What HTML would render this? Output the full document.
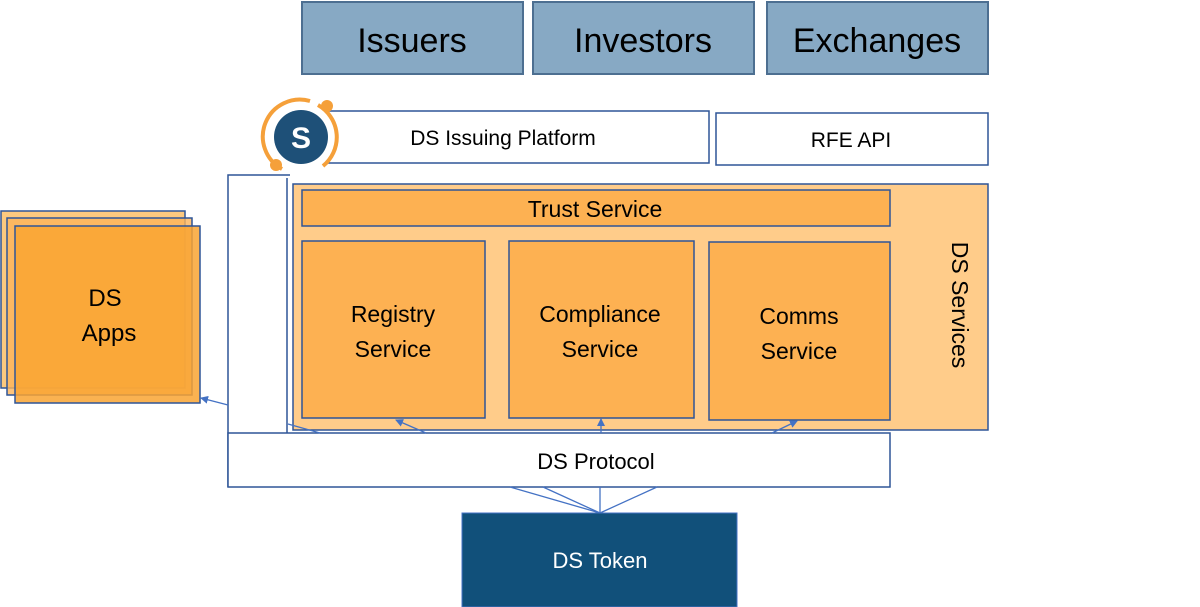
<!DOCTYPE html>
<html><head><meta charset="utf-8"><style>
html,body{margin:0;padding:0;background:#fff;width:1200px;height:607px;overflow:hidden}
svg{display:block}
text{font-family:"Liberation Sans",sans-serif;fill:#000}
</style></head><body>
<svg width="1200" height="607" viewBox="0 0 1200 607" xmlns="http://www.w3.org/2000/svg">
<defs>
<marker id="ar" markerWidth="8" markerHeight="8" refX="7" refY="4" orient="auto" markerUnits="userSpaceOnUse">
<path d="M0,0 L8,4 L0,8 z" fill="#4472c4"/></marker>
</defs>
<g stroke="#4d6f91" stroke-width="2" fill="#87a9c4">
<rect x="302" y="2" width="221" height="72"/>
<rect x="533" y="2" width="221" height="72"/>
<rect x="767" y="2" width="221" height="72"/>
</g>
<g font-size="34" text-anchor="middle">
<text x="412" y="52">Issuers</text>
<text x="643" y="52">Investors</text>
<text x="877" y="52">Exchanges</text>
</g>
<g stroke="#2f5597" stroke-width="1.5" fill="#fff">
<rect x="287" y="111" width="422" height="52"/>
<rect x="716" y="113" width="272" height="52"/>
</g>
<g font-size="21" text-anchor="middle">
<text x="503" y="145">DS Issuing Platform</text>
<text x="851" y="147">RFE API</text>
</g>
<path d="M290,175 L228,175 L228,487" fill="none" stroke="#2f5597" stroke-width="1.5"/>
<path d="M287,178 L287,433" fill="none" stroke="#2f5597" stroke-width="1.5"/>
<rect x="293" y="184" width="695" height="246" fill="#ffcc8a" stroke="#2f5597" stroke-width="1.5"/>
<g fill="#fdb152" stroke="#2f5597" stroke-width="1.5">
<rect x="302" y="190" width="588" height="36"/>
<rect x="302" y="241" width="183" height="177"/>
<rect x="509" y="241" width="185" height="177"/>
<rect x="709" y="242" width="181" height="178"/>
</g>
<g font-size="23" text-anchor="middle">
<text x="595" y="217">Trust Service</text>
<text x="393" y="322">Registry</text><text x="393" y="357">Service</text>
<text x="600" y="322">Compliance</text><text x="600" y="357">Service</text>
<text x="799" y="324">Comms</text><text x="799" y="359">Service</text>
<text transform="translate(952,305) rotate(90)" text-anchor="middle" font-size="23">DS Services</text>
</g>
<rect x="228" y="433" width="662" height="54" fill="#fff" stroke="#2f5597" stroke-width="1.5"/>
<text x="596" y="469" font-size="22" text-anchor="middle">DS Protocol</text>
<g stroke="#2f5597" stroke-width="1.5">
<rect x="1" y="211" width="184" height="177" fill="#fcc97f"/>
<rect x="7" y="218" width="185" height="177" fill="#fcb45a" fill-opacity="0.8"/>
<rect x="15" y="226" width="185" height="177" fill="#f9a533" fill-opacity="0.85"/>
</g>
<g font-size="24" text-anchor="middle">
<text x="105" y="306">DS</text><text x="109" y="341">Apps</text>
</g>
<rect x="462" y="513" width="275" height="94" fill="#11507a" stroke="#4472c4" stroke-width="1"/>
<text x="600" y="568" font-size="22" text-anchor="middle" style="fill:#fff">DS Token</text>
<g stroke="#4472c4" stroke-width="1.3" fill="none">
<line x1="228" y1="405" x2="201" y2="398" marker-end="url(#ar)"/>
<line x1="320" y1="433" x2="288" y2="424"/>
<line x1="426" y1="433" x2="396" y2="420" marker-end="url(#ar)"/>
<line x1="601" y1="433" x2="601" y2="419" marker-end="url(#ar)"/>
<line x1="772" y1="433" x2="797" y2="421" marker-end="url(#ar)"/>
<line x1="600" y1="513" x2="510" y2="487"/>
<line x1="600" y1="513" x2="543" y2="487"/>
<line x1="600" y1="513" x2="600" y2="487"/>
<line x1="600" y1="513" x2="657" y2="487"/>
</g>
<circle cx="300" cy="137" r="36" fill="#fff"/>
<path d="M318,105 A37,37 0 0 1 323,166" fill="none" stroke="#f5a03a" stroke-width="4"/>
<path d="M282,169 A37,37 0 0 1 310,101" fill="none" stroke="#f5a03a" stroke-width="4"/>
<circle cx="301" cy="137" r="27" fill="#1e5078"/>
<circle cx="327" cy="106" r="6" fill="#f5a03a"/>
<circle cx="276" cy="165" r="6" fill="#f5a03a"/>
<text x="301" y="148" font-size="30" font-weight="bold" text-anchor="middle" style="fill:#fff">S</text>
</svg>
</body></html>
